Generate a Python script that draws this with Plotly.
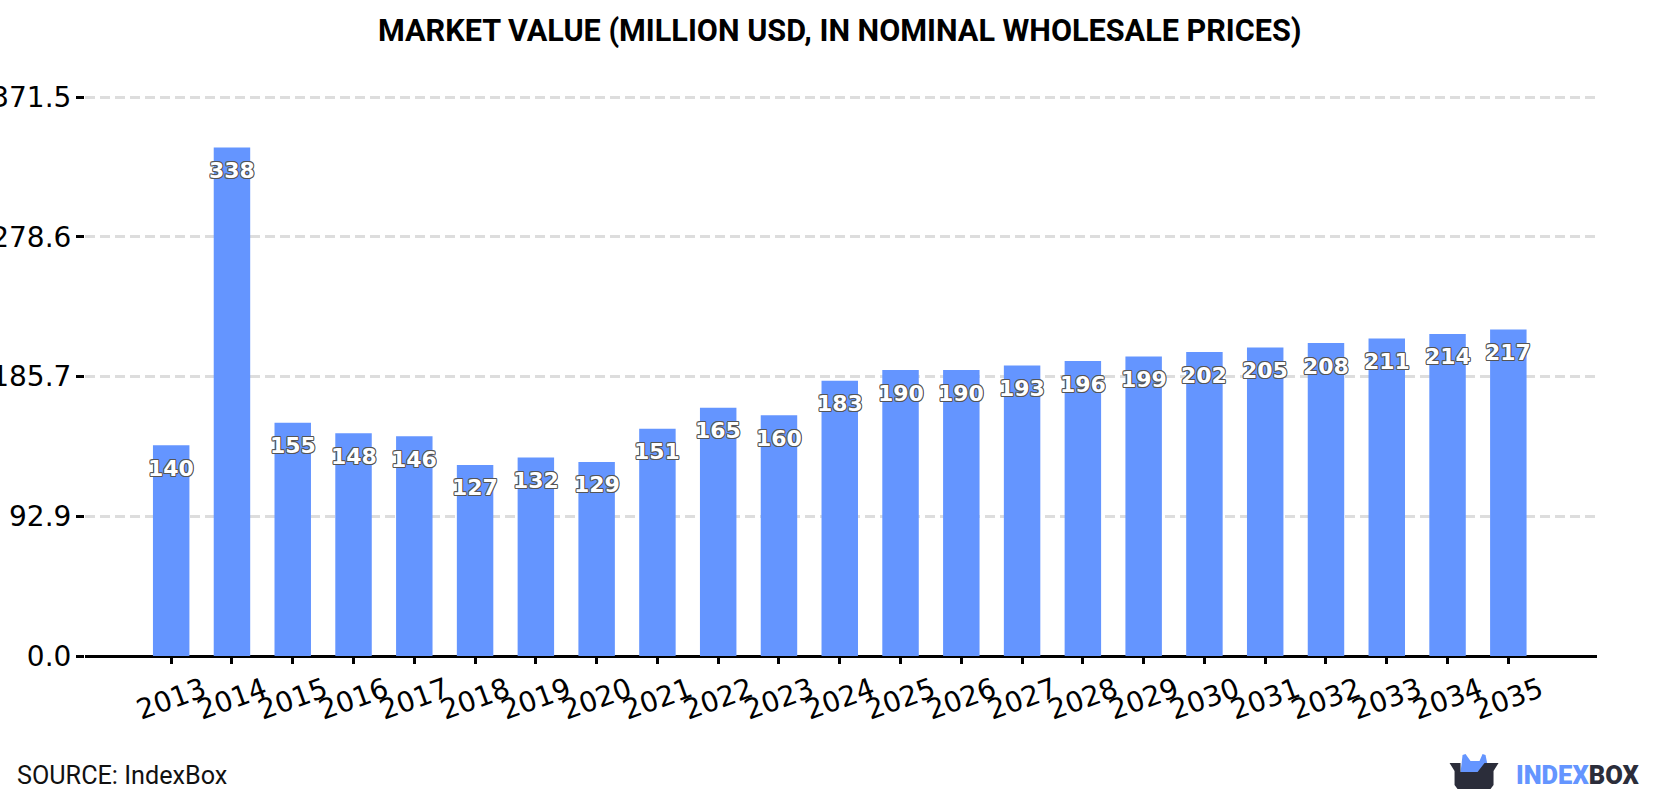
import plotly.graph_objects as go

years = list(range(2013, 2036))
values = [140, 338, 155, 148, 146, 127, 132, 129, 151, 165, 160, 183,
          190, 190, 193, 196, 199, 202, 205, 208, 211, 214, 217]
y_ticks = [0.0, 92.9, 185.7, 278.6, 371.5]
y_tick_labels = ["0.0", "92.9", "185.7", "278.6", "371.5"]

WIDTH, HEIGHT = 1680, 800
LEFT, RIGHT, TOP, BOTTOM = 85, 1597.5, 94.7, 656
Y_MAX = 372.83  # a little headroom so the top gridline is still drawn
BLUE = "#6495ff"
DARK = "#2b2d3a"

def px(x):
    return (x - LEFT) / (RIGHT - LEFT)

def py(y):
    return (BOTTOM - y) / (BOTTOM - TOP)

def logo_path(points):
    body = " L".join(f"{px(x):.5f},{py(y):.5f}" for x, y in points)
    return f"M{body} Z"

halo = ",".join(f"{dx}px {dy}px 0 #555" for dx, dy in
                [(-0.7, -0.7), (0.7, -0.7), (-0.7, 0.7), (0.7, 0.7), (-1, 0), (1, 0), (0, -1), (0, 1)])

fig = go.Figure(go.Bar(x=years, y=values, width=0.6, marker=dict(color=BLUE, line_width=0)))

for year, value in zip(years, values):
    fig.add_annotation(x=year, y=value, yshift=-23, yanchor="middle", showarrow=False, text=str(value),
                       font=dict(family="DejaVu Sans", size=22, color="white", weight="bold", shadow=halo))

fig.add_annotation(text="<b>MARKET VALUE (MILLION USD, IN NOMINAL WHOLESALE PRICES)</b>",
                   xref="paper", yref="paper", x=px(840), y=py(31), yanchor="middle", showarrow=False,
                   font=dict(family="Roboto", size=30.6, color="#000"))
fig.add_annotation(text="SOURCE: IndexBox", xref="paper", yref="paper", x=px(15), y=py(776), xanchor="left",
                   yanchor="middle", showarrow=False, font=dict(family="Roboto", size=25.2, color="#111"))
fig.add_annotation(text=f'<span style="color:{BLUE}">INDEX</span><span style="color:{DARK}">BOX</span>',
                   xref="paper", yref="paper", x=px(1514), y=py(775), xanchor="left", yanchor="middle",
                   showarrow=False, font=dict(family="Roboto", size=25.5, weight=900))

# Logo: a dark open box with two blue flaps
flaps = [(1462, 764), (1463, 755), (1466, 754), (1471, 761), (1480, 761), (1483, 754), (1486, 755), (1488, 765), (1478, 772), (1461, 772)]
box = [(1450, 763), (1461, 763), (1461, 772), (1478, 772), (1485, 763), (1499, 763), (1494, 771), (1494, 785), (1491, 789), (1458, 789), (1455, 785), (1455, 771)]
fig.add_shape(type="path", xref="paper", yref="paper", path=logo_path(flaps), fillcolor=BLUE, line_width=0)
fig.add_shape(type="path", xref="paper", yref="paper", path=logo_path(box), fillcolor=DARK, line_width=0)

fig.update_layout(
    width=WIDTH, height=HEIGHT, autosize=False, showlegend=False,
    paper_bgcolor="white", plot_bgcolor="white",
    margin=dict(l=LEFT, r=WIDTH - RIGHT, t=TOP, b=HEIGHT - BOTTOM, pad=0, autoexpand=False),
    bargap=0.4,
)
fig.update_xaxes(range=[2013 - 1.418, 2035 + 1.459], tickvals=years, ticktext=[str(y) for y in years],
                 tickangle=-20, ticklabelshift=32, ticklabelstandoff=-1, ticks="outside", ticklen=7, tickwidth=3,
                 tickcolor="#000", automargin=False, showgrid=False, showline=False, zeroline=False,
                 tickfont=dict(family="DejaVu Sans", size=28, color="#000"))
fig.update_yaxes(range=[0, Y_MAX], tickvals=y_ticks, ticktext=y_tick_labels, ticks="outside", ticklen=8,
                 ticklabelstandoff=-1, tickwidth=3, tickcolor="#000", automargin=False, showline=False,
                 zeroline=True, zerolinecolor="#000", zerolinewidth=3, showgrid=True, gridcolor="#dddddd",
                 gridwidth=3, griddash="10px,5px",
                 tickfont=dict(family="DejaVu Sans", size=28, color="#000"))

fig.write_html("out.html")
